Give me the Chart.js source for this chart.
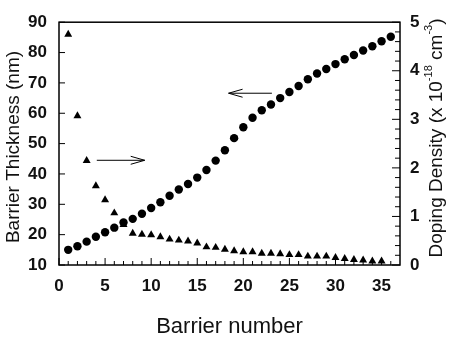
<!DOCTYPE html>
<html>
<head>
<meta charset="utf-8">
<script src="https://cdn.jsdelivr.net/npm/chart.js@4"></script>
<style>
  html, body { margin: 0; padding: 0; background: #fff; }
  #wrap { width: 474px; height: 363px; }
</style>
</head>
<body>
<div id="wrap"><canvas id="chart"></canvas></div>
<script>
// barrier thickness (circles, left axis)
const barrierNum = [1,2,3,4,5,6,7,8,9,10,11,12,13,14,15,16,17,18,19,20,21,22,23,24,25,26,27,28,29,30,31,32,33,34,35,36];
const thickness = [15.0,16.2,17.7,19.3,20.8,22.3,24.0,25.2,26.9,28.8,
                   30.7,32.8,34.9,36.7,38.8,41.3,44.4,47.8,51.8,55.4,
                   58.5,61.0,62.9,65.0,67.0,69.0,71.2,73.1,74.6,76.2,
                   77.8,79.2,80.7,82.1,83.7,85.2];

// doping density (triangles, right axis)
const dopingNum = [1,2,3,4,5,6,7,8,9,10,11,12,13,14,15,16,17,18,19,20,21,22,23,24,25,26,27,28,29,30,31,32,33,34,35];
const doping = [4.75,3.07,2.15,1.63,1.34,1.07,0.83,0.65,0.63,0.62,
                0.58,0.53,0.51,0.49,0.45,0.37,0.36,0.32,0.29,0.27,
                0.27,0.24,0.24,0.23,0.21,0.21,0.18,0.18,0.18,0.15,
                0.13,0.11,0.10,0.08,0.08];

const xTicks = [0,5,10,15,20,25,30,35];
const leftTicks = [10,20,30,40,50,60,70,80,90];
const rightTicks = [0,1,2,3,4,5];

const font = 'Liberation Sans, Arial, sans-serif';
const tickFont = { family: font, size: 17, weight: 'bold' };

// рамка, внутренние засечки, стрелки и подписи осей Y
const frameTicks = {
  id: 'frameTicks',
  afterDatasetsDraw(chart) {
    const {ctx, chartArea: a, scales} = chart;
    const line = (x1, y1, x2, y2) => { ctx.beginPath(); ctx.moveTo(x1, y1); ctx.lineTo(x2, y2); ctx.stroke(); };
    ctx.save();
    ctx.strokeStyle = '#000';
    ctx.lineWidth = 1.5;
    ctx.strokeRect(a.left, a.top, a.right - a.left, a.bottom - a.top);

    ctx.lineWidth = 1;
    for (let v = 0; v <= 36; v++) {
      const px = scales.x.getPixelForValue(v);
      line(px, a.bottom, px, a.bottom - (v % 5 === 0 ? 7 : 4));
    }
    leftTicks.forEach(v => {
      const py = scales.y.getPixelForValue(v);
      line(a.left, py, a.left + 6, py);
    });
    for (let i = 0; i <= 25; i++) {
      const py = scales.y1.getPixelForValue(i * 0.2);
      line(a.right, py, a.right - (i % 5 === 0 ? 8 : 5), py);
    }

    // стрелки
    const arrow = (x1, x2, yv) => {
      const px1 = scales.x.getPixelForValue(x1);
      const px2 = scales.x.getPixelForValue(x2);
      const py = scales.y.getPixelForValue(yv);
      const dir = Math.sign(px2 - px1);
      line(px1, py, px2, py);
      line(px2, py, px2 - dir * 14, py - 4);
      line(px2, py, px2 - dir * 14, py + 4);
    };
    arrow(23.1, 18.4, 66.6);
    arrow(4.1, 9.3, 44.5);

    // подписи осей Y (снизу вверх)
    ctx.fillStyle = '#111';
    ctx.textBaseline = 'middle';
    ctx.textAlign = 'center';
    ctx.save();
    ctx.translate(14, 147);
    ctx.rotate(-Math.PI / 2);
    ctx.font = `19px ${font}`;
    ctx.fillText('Barrier Thickness (nm)', 0, 0);
    ctx.restore();

    const parts = [
      ['Doping Density (x 10', false],
      ['-18', true],
      [' cm', false],
      ['-3', true],
      [')', false]
    ];
    ctx.save();
    ctx.translate(437, 138);
    ctx.rotate(-Math.PI / 2);
    ctx.textAlign = 'left';
    let total = 0;
    parts.forEach(([t, sup]) => {
      ctx.font = sup ? `11px ${font}` : `19px ${font}`;
      total += ctx.measureText(t).width;
    });
    let x = -total / 2;
    parts.forEach(([t, sup]) => {
      ctx.font = sup ? `11px ${font}` : `19px ${font}`;
      ctx.fillText(t, x, sup ? -8 : 0);
      x += ctx.measureText(t).width;
    });
    ctx.restore();
    ctx.restore();
  }
};

new Chart(document.getElementById('chart'), {
  type: 'scatter',
  data: {
    datasets: [
      {
        label: 'Barrier thickness',
        data: barrierNum.map((n, i) => ({x: n, y: thickness[i]})),
        yAxisID: 'y',
        pointStyle: 'circle',
        pointRadius: 4.2,
        backgroundColor: '#000',
        borderColor: '#000',
        borderWidth: 0
      },
      {
        label: 'Doping density',
        data: dopingNum.map((n, i) => ({x: n, y: doping[i]})),
        yAxisID: 'y1',
        pointStyle: 'triangle',
        pointRadius: 4.6,
        backgroundColor: '#000',
        borderColor: '#000',
        borderWidth: 0
      }
    ]
  },
  options: {
    responsive: true,
    maintainAspectRatio: false,
    animation: false,
    events: [],
    layout: { padding: { top: 8, left: 0, right: 0, bottom: 0 } },
    plugins: { legend: { display: false }, tooltip: { enabled: false } },
    scales: {
      x: {
        type: 'linear',
        min: 0, max: 37,
        afterBuildTicks: s => { s.ticks = xTicks.map(v => ({value: v})); },
        afterFit: s => { s.height = 98; },
        grid: { display: false, drawTicks: false },
        border: { display: false },
        ticks: { padding: 11, color: '#111', font: tickFont },
        title: {
          display: true, text: 'Barrier number', color: '#111',
          font: { family: font, size: 22 }, padding: { top: 0, bottom: 23 }
        }
      },
      y: {
        position: 'left',
        min: 10, max: 90,
        afterBuildTicks: s => { s.ticks = leftTicks.map(v => ({value: v})); },
        afterFit: s => { s.width = 59; },
        grid: { display: false, drawTicks: false },
        border: { display: false },
        ticks: { padding: 12, color: '#111', font: tickFont }
      },
      y1: {
        position: 'right',
        min: 0, max: 5,
        afterBuildTicks: s => { s.ticks = rightTicks.map(v => ({value: v})); },
        afterFit: s => { s.width = 74; },
        grid: { display: false, drawTicks: false },
        border: { display: false },
        ticks: { padding: 10, color: '#111', font: tickFont }
      }
    }
  },
  plugins: [frameTicks]
});
</script>
</body>
</html>
